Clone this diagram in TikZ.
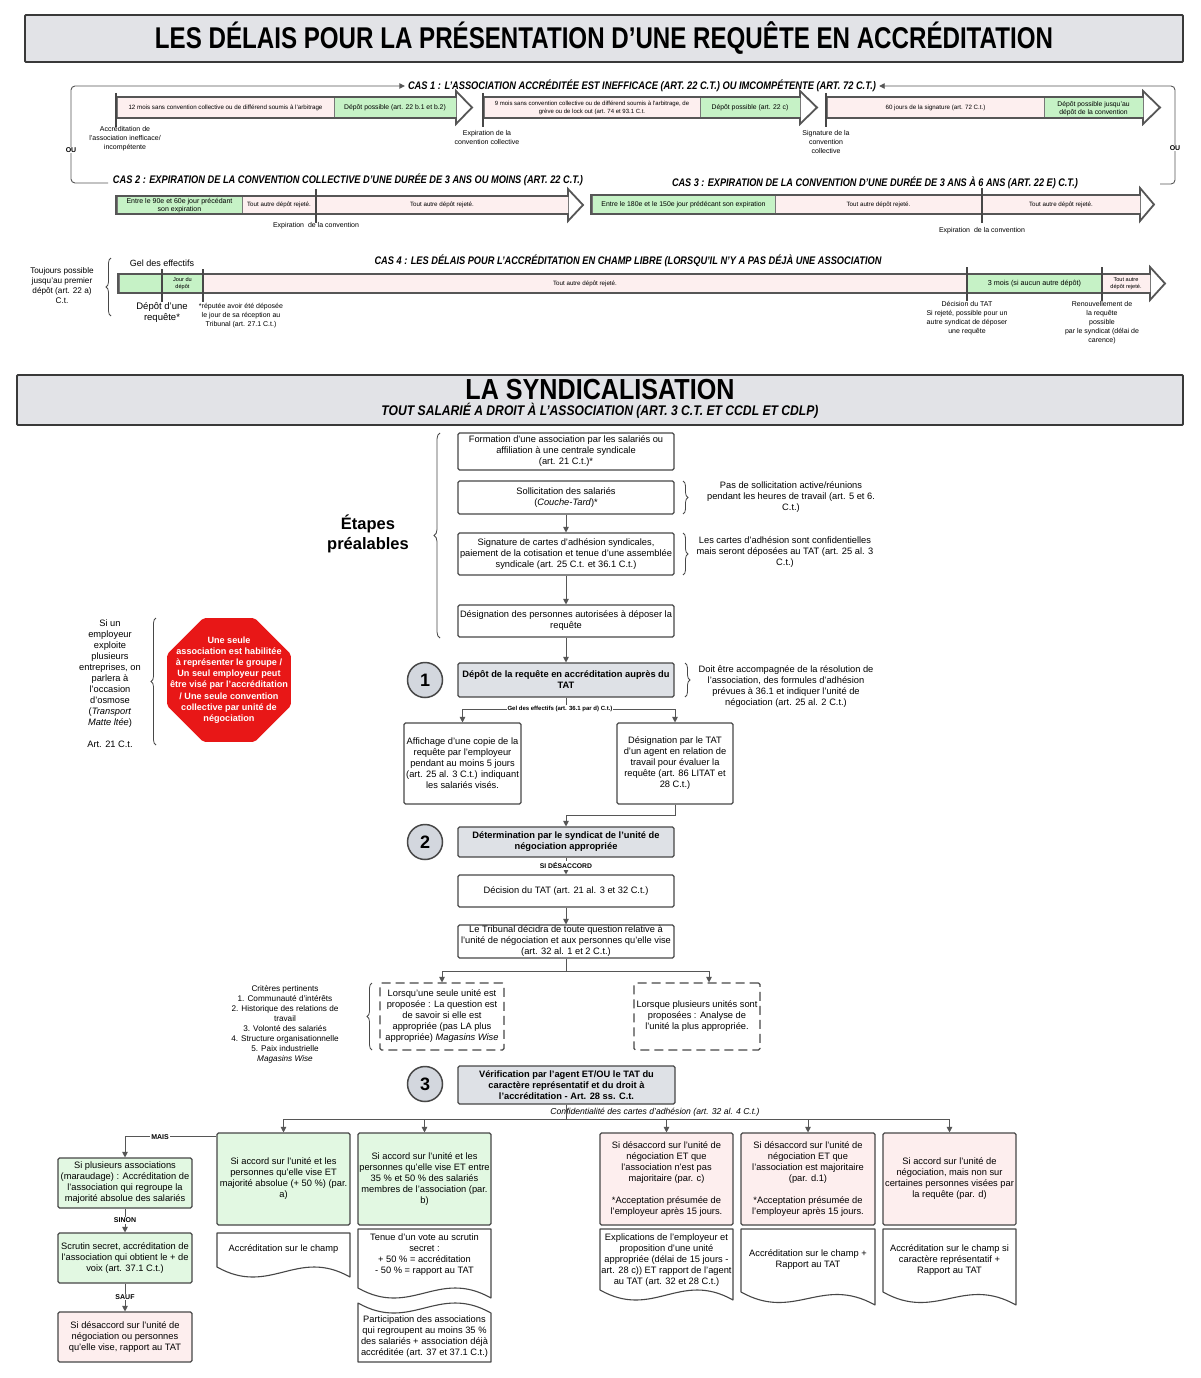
\documentclass[tikz,border=0pt]{standalone}
\usepackage{fontspec}
\usepackage{graphicx}
\setmainfont{Liberation Sans}
\usetikzlibrary{arrows.meta,decorations.pathreplacing,calc}
\definecolor{bdr}{HTML}{474747}
\definecolor{ttlfill}{HTML}{E2E3E7}
\definecolor{stepfill}{HTML}{DEE1E6}
\definecolor{circfill}{HTML}{D3D7DE}
\definecolor{gbox}{HTML}{E2F8E2}
\definecolor{pbox}{HTML}{FDEEEE}
\definecolor{tlgreen}{HTML}{C6F2C6}
\definecolor{tlpink}{HTML}{FDEFEF}
\definecolor{stopred}{HTML}{E81717}
\definecolor{lnk}{HTML}{565656}
\newcommand\fsz[2]{\fontsize{#1}{#2}\selectfont}
\newcommand\fitw[2]{\resizebox{#1}{\height}{#2}}
\newcommand\tlshape[7]{\path[#1] (#2,#5) -- (#3,#5) -- (#3,#5-#7) -- (#4,{(#5+#6)/2}) -- (#3,#6+#7) -- (#3,#6) -- (#2,#6) -- cycle;}
\newcommand\docbot[5]{\pgfmathsetmacro\dw{#2-#1}%
  \draw[docst] (#1,#3) -- (#2,#3) -- (#2,#5) .. controls ({#2-0.4*\dw},{#5-30}) and ({#1+0.4*\dw},{#4+30}) .. (#1,#4) -- cycle;}
\newcommand\doctop[5]{\pgfmathsetmacro\dw{#2-#1}%
  \draw[docst] (#1,#3) .. controls ({#1+0.4*\dw},{#3+30}) and ({#2-0.4*\dw},{#4-30}) .. (#2,#4) -- (#2,#5) -- (#1,#5) -- cycle;}
\begin{document}
\begin{tikzpicture}[x=1pt,y=-1pt,
  box/.style={draw=bdr, line width=1.1pt, rounded corners=1.5pt, fill=white, align=center, font=\fsz{9.3}{11}, inner sep=1pt},
  stepbox/.style={box, fill=stepfill, font=\bfseries\fsz{9.3}{11}},
  gbx/.style={box, fill=gbox},
  pbx/.style={box, fill=pbox},
  dbox/.style={box, dash pattern=on 9pt off 5pt},
  docst/.style={draw=bdr, line width=1.1pt, fill=white, line join=round},
  circ/.style={circle, draw=bdr, line width=1.5pt, fill=circfill, minimum size=35pt, inner sep=0pt, font=\bfseries\fsz{18}{18}},
  conn/.style={draw=lnk, line width=0.9pt},
  arr/.style={conn, -{Triangle[width=5.5pt,length=5.5pt]}},
  note/.style={align=center, font=\fsz{9.3}{11}, inner sep=0pt},
  lbl/.style={fill=white, inner sep=1pt, font=\bfseries\fsz{6.5}{7}},
  brc/.style={draw=bdr, line width=0.8pt, decorate, decoration={brace, amplitude=#1}},
  brc/.default=5,
  tlbody/.style={draw=lnk, line width=1.8pt, line join=miter},
  tlcell/.style={draw=lnk!80, line width=0.5pt},
  tltxt/.style={font=\fsz{6.2}{7.5}, align=center, inner sep=0pt},
  tlg/.style={font=\fsz{6.8}{8}, align=center, inner sep=0pt},
  tick/.style={draw=bdr, line width=1.1pt},
  small/.style={font=\fsz{7}{9}, align=center, inner sep=0pt},
  ttl/.style={inner sep=3pt, align=center},
  titlebox/.style={draw=bdr!80!black, line width=1.8pt, fill=ttlfill, rounded corners=1pt},
]
\fill[white] (0,0) rectangle (1200,1378);
\useasboundingbox (0,0) rectangle (1200,1378);

% ================= TITLE 1 =================
\node[titlebox, minimum width=1158pt, minimum height=47pt] (t1) at (604,38.5)
  {\fitw{898pt}{\fsz{30}{30}\bfseries LES DÉLAIS POUR LA PRÉSENTATION D’UNE REQUÊTE EN ACCRÉDITATION}};

% ================= CAS 1 =================
\node[ttl] (cas1) at (642,86) {\fitw{468pt}{\fsz{11}{11}\bfseries\itshape CAS 1 : L’ASSOCIATION ACCRÉDITÉE EST INEFFICACE (ART. 22 C.T.) OU IMCOMPÉTENTE (ART. 72 C.T.)}};
\node[ttl] (cas2) at (348,180) {\fitw{470pt}{\fsz{11}{11}\bfseries\itshape CAS 2 : EXPIRATION DE LA CONVENTION COLLECTIVE D’UNE DURÉE DE 3 ANS OU MOINS (ART. 22 C.T.)}};
\node[ttl] (cas3) at (875,183) {\fitw{406pt}{\fsz{11}{11}\bfseries\itshape CAS 3 : EXPIRATION DE LA CONVENTION D’UNE DURÉE DE 3 ANS À 6 ANS (ART. 22 E) C.T.)}};
\node[ttl] (cas4) at (628,261) {\fitw{507pt}{\fsz{11}{11}\bfseries\itshape CAS 4 : LES DÉLAIS POUR L’ACCRÉDITATION EN CHAMP LIBRE (LORSQU’IL N’Y A PAS DÉJÀ UNE ASSOCIATION}};

\coordinate (c2s) at (108,183);
\coordinate (c3s) at (1160,184);
\draw[arr, rounded corners=4pt] (c2s) -- (71,183) |- (cas1.west);
\draw[arr, rounded corners=4pt] (c3s) -- (1175,184) |- (cas1.east);
\node[lbl, font=\bfseries\fsz{7}{7}] (ou1) at (71,150) {OU};
\node[lbl, font=\bfseries\fsz{7}{7}] (ou2) at (1175,148) {OU};

% CAS 1 timeline a
\tlshape{fill=white}{116}{456}{472}{97}{118}{6}
\filldraw[tlcell, fill=tlpink] (117,97) rectangle (334,118);
\filldraw[tlcell, fill=tlgreen] (334,97) rectangle (456,118);
\tlshape{tlbody}{116}{456}{472}{97}{118}{6}
\node[tltxt] (c1a) at (225.5,107.5) {12 mois sans convention collective ou de différend soumis à l'arbitrage};
\node[tlg] (c1b) at (395,107.5) {Dépôt possible (art. 22 b.1 et b.2)};
\draw[tick] (116,93) -- (116,127);
% CAS 1 timeline b
\tlshape{fill=white}{483}{800}{817}{97}{118}{6}
\filldraw[tlcell, fill=tlpink] (484,97) rectangle (700,118);
\filldraw[tlcell, fill=tlgreen] (700,97) rectangle (800,118);
\tlshape{tlbody}{483}{800}{817}{97}{118}{6}
\node[tltxt, font=\fsz{6}{8}] (c1c) at (592,108) {9 mois sans convention collective ou de différend soumis à l'arbitrage, de\\grève ou de lock out (art. 74 et 93.1 C.t.};
\node[tlg] (c1d) at (750,107.5) {Dépôt possible (art. 22 c)};
\draw[tick] (483,93) -- (483,127);
% CAS 1 timeline c
\tlshape{fill=white}{826}{1143}{1160}{97}{118}{6}
\filldraw[tlcell, fill=tlpink] (827,97) rectangle (1044,118);
\filldraw[tlcell, fill=tlgreen] (1044,97) rectangle (1143,118);
\tlshape{tlbody}{826}{1143}{1160}{97}{118}{6}
\node[tltxt] (c1e) at (935.5,107.5) {60 jours de la signature (art. 72 C.t.)};
\node[tlg] (c1f) at (1093.5,109) {Dépôt possible jusqu'au\\dépôt de la convention};
\draw[tick] (826,93) -- (826,127);

\node[small] (l1a) at (125,139) {Accréditation de\\l'association inefficace/\\incompétente};
\node[small] (l1b) at (487,137.5) {Expiration de la\\convention collective};
\node[small] (l1c) at (826,142) {Signature de la\\convention\\collective};

% CAS 2 timeline
\tlshape{fill=white}{116}{568}{583}{196}{214}{7}
\filldraw[tlcell, fill=tlgreen] (117,196) rectangle (242,214);
\filldraw[tlcell, fill=tlpink] (242,196) rectangle (316,214);
\filldraw[tlcell, fill=tlpink] (316,196) rectangle (568,214);
\tlshape{tlbody}{116}{568}{583}{196}{214}{7}
\node[tlg, font=\fsz{7}{8}] (c2a) at (179.5,206) {Entre le 90e et 60e jour précédant\\son expiration};
\node[tltxt] (c2b) at (279,205) {Tout autre dépôt rejeté.};
\node[tltxt] (c2c) at (442,205) {Tout autre dépôt rejeté.};
\draw[tick] (316,189) -- (316,223);
\node[small] (l2a) at (316,226) {Expiration \ de la convention};

% CAS 3 timeline
\tlshape{fill=white}{591}{1140}{1154}{195}{214}{7}
\filldraw[tlcell, fill=tlgreen] (592,195) rectangle (775,214);
\filldraw[tlcell, fill=tlpink] (775,195) rectangle (982,214);
\filldraw[tlcell, fill=tlpink] (982,195) rectangle (1140,214);
\tlshape{tlbody}{591}{1140}{1154}{195}{214}{7}
\node[tlg, font=\fsz{6.9}{8}] (c3a) at (683.5,204.5) {Entre le 180e et le 150e jour prédécant son expiration};
\node[tltxt] (c3b) at (878.5,204.5) {Tout autre dépôt rejeté.};
\node[tltxt] (c3c) at (1061,204.5) {Tout autre dépôt rejeté.};
\draw[tick] (982,188) -- (982,223);
\node[small] (l3a) at (982,231) {Expiration \ de la convention};

% CAS 4 timeline
\tlshape{fill=white}{118}{1150}{1165}{274}{293}{7}
\filldraw[tlcell, fill=tlgreen] (119,274) rectangle (162,293);
\filldraw[tlcell, fill=tlgreen] (162,274) rectangle (203,293);
\filldraw[tlcell, fill=tlpink] (203,274) rectangle (967,293);
\filldraw[tlcell, fill=tlgreen] (967,274) rectangle (1102,293);
\filldraw[tlcell, fill=tlpink] (1102,274) rectangle (1150,293);
\tlshape{tlbody}{118}{1150}{1165}{274}{293}{7}
\node[tltxt, font=\fsz{5.6}{7.5}] (c4a) at (182.5,283.5) {Jour du\\dépôt};
\node[tltxt] (c4b) at (585,283.5) {Tout autre dépôt rejeté.};
\node[tlg, font=\fsz{7.2}{8}] (c4c) at (1034.5,283.5) {3 mois (si aucun autre dépôt)};
\node[tltxt, font=\fsz{5.6}{7.5}] (c4d) at (1126,283.5) {Tout autre\\dépôt rejeté.};
\draw[tick] (162,269) -- (162,302);
\draw[tick] (203,269) -- (203,302);
\draw[tick] (967,267) -- (967,301);
\draw[tick] (1102,267) -- (1102,301);

\node[note, font=\fsz{9}{11}] (gel1) at (162,263) {Gel des effectifs};
\node[note, font=\fsz{8.2}{10}] (toujours) at (62,286) {Toujours possible\\jusqu'au premier\\dépôt (art. 22 a)\\C.t.};
\draw[brc=5] (111,316) -- (111,258);
\node[note, font=\fsz{9.5}{11}] (depreq) at (162,312) {Dépôt d'une\\requête*};
\node[small] (reputee) at (241,316) {*réputée avoir été déposée\\le jour de sa réception au\\Tribunal (art. 27.1 C.t.)};
\node[small] (dectat) at (967,318.5) {Décision du TAT\\Si rejeté, possible pour un\\autre syndicat de déposer\\une requête};
\node[small] (renouv) at (1102,322.5) {Renouvellement de\\la requête\\possible\\par le syndicat (délai de\\carence)};

% ================= TITLE 2 =================
\node[titlebox, minimum width=1166pt, minimum height=50pt] (t2) at (600,400) {};
\node[inner sep=0pt] (t2a) at (600,390) {\fitw{269pt}{\fsz{29}{29}\bfseries LA SYNDICALISATION}};
\node[inner sep=0pt] (t2b) at (600,411) {\fitw{437pt}{\fsz{14}{14}\bfseries\itshape TOUT SALARIÉ A DROIT À L’ASSOCIATION (ART. 3 C.T. ET CCDL ET CDLP)}};

% ================= FLOW =================
\node[box, minimum width=216pt, minimum height=37pt] (A) at (566,451.5) {Formation d'une association par les salariés ou\\affiliation à une centrale syndicale\\(art. 21 C.t.)*};
\node[box, minimum width=216pt, minimum height=33pt] (B) at (566,497.5) {Sollicitation des salariés\\(\textit{Couche-Tard})*};
\node[box, minimum width=216pt, minimum height=42pt] (C) at (566,554) {Signature de cartes d'adhésion syndicales,\\paiement de la cotisation et tenue d'une assemblée\\syndicale (art. 25 C.t. et 36.1 C.t.)};
\node[box, minimum width=216pt, minimum height=32pt] (D) at (566,621) {Désignation des personnes autorisées à déposer la\\requête};
\node[stepbox, minimum width=216pt, minimum height=34pt] (E) at (566,680) {Dépôt de la requête en accréditation auprès du\\TAT};
\draw[arr] (B) -- (C);
\draw[arr] (C) -- (D);
\draw[arr] (D) -- (E);

\draw[brc=6] (440,638) -- (440,433);
\node[note, font=\bfseries\fsz{16.5}{20}] (etapes) at (368,534) {Étapes\\préalables};
\draw[brc=5] (683,481) -- (683,514);
\node[note] (notB) at (791,497.5) {Pas de sollicitation active/réunions\\pendant les heures de travail (art. 5 et 6.\\C.t.)};
\draw[brc=5] (683,533) -- (683,575);
\node[note] (notC) at (785,552.5) {Les cartes d'adhésion sont confidentielles\\mais seront déposées au TAT (art. 25 al. 3\\C.t.)};
\draw[brc=5] (685,663) -- (685,697);
\node[note] (notE) at (786,687) {Doit être accompagnée de la résolution de\\l'association, des formules d'adhésion\\prévues à 36.1 et indiquer l'unité de\\négociation (art. 25 al. 2 C.t.)};

\node[circ] (s1) at (425,680) {1};
\node[circ] (s2) at (425,842) {2};
\node[circ] (s3) at (425,1084) {3};

% stop sign
\fill[stopred, rounded corners=2pt] (229,680) +(22.5:67) -- +(67.5:67) -- +(112.5:67) -- +(157.5:67) -- +(202.5:67) -- +(247.5:67) -- +(292.5:67) -- +(337.5:67) -- cycle;
\node[align=center, text=white, font=\bfseries\fsz{9.1}{11.2}, inner sep=0pt] (stop) at (229,680) {Une seule\\association est habilitée\\à représenter le groupe /\\Un seul employeur peut\\être visé par l'accréditation\\/ Une seule convention\\collective par unité de\\négociation};
\draw[brc=5] (156,745) -- (156,618);
\node[note] (osmose) at (110,684) {Si un\\employeur\\exploite\\plusieurs\\entreprises, on\\parlera à\\l'occasion\\d'osmose\\(\textit{Transport}\\\textit{Matte ltée})\\[11pt]Art. 21 C.t.};

% Step 1 children
\node[box, minimum width=117pt, minimum height=81pt] (F) at (462.5,763.5) {Affichage d'une copie de la\\requête par l'employeur\\pendant au moins 5 jours\\(art. 25 al. 3 C.t.) indiquant\\les salariés visés.};
\node[box, minimum width=116pt, minimum height=81pt] (G) at (675,763.5) {Désignation par le TAT\\d'un agent en relation de\\travail pour évaluer la\\requête (art. 86 LITAT et\\28 C.t.)};
\coordinate (e1) at (566,709);
\draw[conn] (E.south) -- (e1);
\draw[arr] (e1) -| (F.north);
\draw[arr] (e1) -| (G.north);
\node[lbl, font=\bfseries\fsz{6}{7}] (gel2) at (560,709) {Gel des effectifs (art. 36.1 par d) C.t.)};

% Step 2
\node[stepbox, minimum width=216pt, minimum height=30pt] (H) at (566,842) {Détermination par le syndicat de l'unité de\\négociation appropriée};
\draw[arr] (G.south) -- ++(0,11) -| (H.north);
\node[box, minimum width=216pt, minimum height=32pt] (I) at (566,891) {Décision du TAT (art. 21 al. 3 et 32 C.t.)};
\draw[arr] (H) -- (I);
\node[lbl, font=\bfseries\fsz{6.8}{7}] (sid) at (566,865.5) {SI DÉSACCORD};
\node[box, minimum width=216pt, minimum height=33pt] (J) at (566,941.5) {Le Tribunal décidra de toute question relative à\\l'unité de négociation et aux personnes qu'elle vise\\(art. 32 al. 1 et 2 C.t.)};
\draw[arr] (I) -- (J);
\node[dbox, minimum width=124pt, minimum height=67pt] (K) at (442,1016.5) {Lorsqu'une seule unité est\\proposée : La question est\\de savoir si elle est\\appropriée (pas LA plus\\appropriée) \textit{Magasins Wise}};
\node[dbox, minimum width=126pt, minimum height=67pt] (L) at (697,1016.5) {Lorsque plusieurs unités sont\\proposées : Analyse de\\l'unité la plus appropriée.};
\coordinate (j1) at (566,971);
\draw[conn] (J.south) -- (j1);
\draw[arr] (j1) -| (K.north);
\draw[arr] (j1) -| ($(L.north)+(12,0)$);
\draw[brc=5] (372,1050) -- (372,983);
\node[note, font=\fsz{8.2}{10}] (crit) at (285,1024) {Critères pertinents\\1. Communauté d'intérêts\\2. Historique des relations de\\travail\\3. Volonté des salariés\\4. Structure organisationnelle\\5. Paix industrielle\\\textit{Magasins Wise}};

% Step 3
\node[stepbox, minimum width=217pt, minimum height=38pt] (M) at (566.5,1085) {Vérification par l'agent ET/OU le TAT du\\caractère représentatif et du droit à\\l'accréditation - Art. 28 ss. C.t.};
\node[note, font=\itshape\fsz{8.6}{10}] (conf) at (655,1112) {Confidentialité des cartes d'adhésion (art. 32 al. 4 C.t.)};

\node[gbx, minimum width=133pt, minimum height=92pt] (N2) at (283.5,1179) {Si accord sur l'unité et les\\personnes qu'elle vise ET\\majorité absolue (+ 50 \%) (par.\\a)};
\node[gbx, minimum width=133pt, minimum height=92pt] (N3) at (424.5,1179) {Si accord sur l'unité et les\\personnes qu'elle vise ET entre\\35 \% et 50 \% des salariés\\membres de l'association (par.\\b)};
\node[pbx, minimum width=133pt, minimum height=92pt] (N4) at (666.5,1179) {Si désaccord sur l'unité de\\négociation ET que\\l'association n'est pas\\majoritaire (par. c)\\[11pt]*Acceptation présumée de\\l'employeur après 15 jours.};
\node[pbx, minimum width=134pt, minimum height=92pt] (N5) at (808,1179) {Si désaccord sur l'unité de\\négociation ET que\\l'association est majoritaire\\(par. d.1)\\[11pt]*Acceptation présumée de\\l'employeur après 15 jours.};
\node[pbx, minimum width=133pt, minimum height=92pt] (N6) at (949.5,1179) {Si accord sur l'unité de\\négociation, mais non sur\\certaines personnes visées par\\la requête (par. d)};

\coordinate (m1) at (566.5,1119);
\draw[conn] (M.south) -- (m1);
\draw[arr] (m1) -| (N2.north);
\draw[arr] (m1) -| (N3.north);
\draw[arr] (m1) -| (N4.north);
\draw[arr] (m1) -| (N5.north);
\draw[arr] (m1) -| (N6.north);

\node[gbx, minimum width=134pt, minimum height=50pt] (N1) at (125,1183) {Si plusieurs associations\\(maraudage) : Accréditation de\\l'association qui regroupe la\\majorité absolue des salariés};
\node[gbx, minimum width=134pt, minimum height=50pt] (N1b) at (125,1258) {Scrutin secret, accréditation de\\l'association qui obtient le + de\\voix (art. 37.1 C.t.)};
\node[pbx, minimum width=134pt, minimum height=50pt] (N1c) at (125,1337) {Si désaccord sur l'unité de\\négociation ou personnes\\qu'elle vise, rapport au TAT};
\coordinate (mais0) at ($(N2.north west)+(0,4)$);
\draw[arr] (mais0) -| (N1.north);
\node[lbl, font=\bfseries\fsz{7}{7}] (mais) at (160,1137) {MAIS};
\draw[arr] (N1) -- (N1b);
\node[lbl, font=\bfseries\fsz{7}{7}] (sinon) at (125,1220.5) {SINON};
\draw[arr] (N1b) -- (N1c);
\node[lbl, font=\bfseries\fsz{7}{7}] (sauf) at (125,1297) {SAUF};

% documents
\docbot{217}{350}{1233}{1267}{1277}
\node[note] (N2d) at (283.5,1249) {Accréditation sur le champ};
\docbot{358}{491}{1229}{1288}{1298}
\node[note] (N3d) at (424.5,1255) {Tenue d'un vote au scrutin\\secret :\\+ 50 \% = accréditation\\- 50 \% = rapport au TAT};
\doctop{358}{491}{1303}{1313}{1362}
\node[note] (N3e) at (424.5,1336.5) {Participation des associations\\qui regroupent au moins 35 \%\\des salariés + association déjà\\accréditée (art. 37 et 37.1 C.t.)};
\docbot{600}{733}{1229}{1290}{1300}
\node[note] (N4d) at (666.5,1260) {Explications de l'employeur et\\proposition d'une unité\\appropriée (délai de 15 jours -\\art. 28 c)) ET rapport de l'agent\\au TAT (art. 32 et 28 C.t.)};
\docbot{741}{875}{1229}{1292}{1305}
\node[note] (N5d) at (808,1260) {Accréditation sur le champ +\\Rapport au TAT};
\docbot{883}{1016}{1229}{1292}{1305}
\node[note] (N6d) at (949.5,1260) {Accréditation sur le champ si\\caractère représentatif +\\Rapport au TAT};
\end{tikzpicture}
\end{document}
